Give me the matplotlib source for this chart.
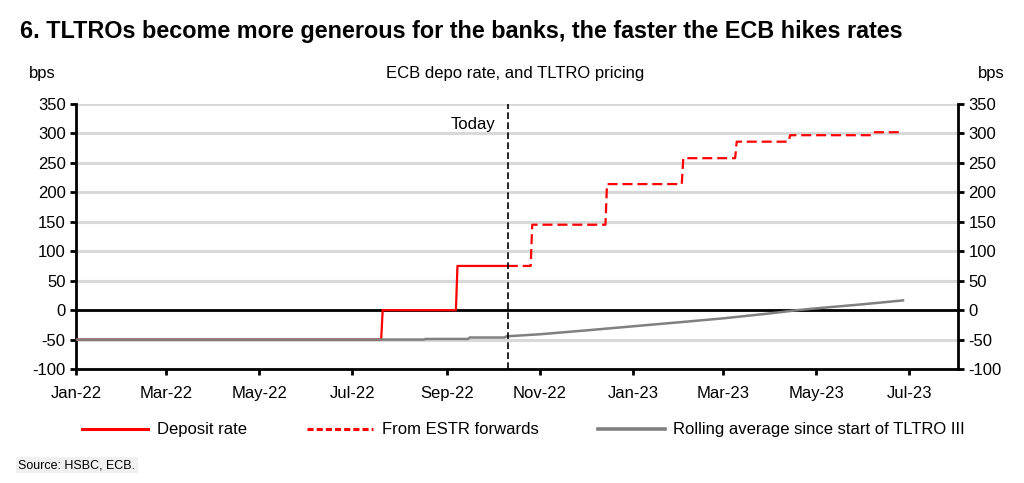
import pandas as pd
import numpy as np
import matplotlib.pyplot as plt
import matplotlib.dates as mdates

plt.rcParams['font.family'] = ['Liberation Sans', 'DejaVu Sans']
plt.rcParams['axes.unicode_minus'] = False

# Deposit rate (bps)
depo_dates = ['2022-01-01', '2022-07-20', '2022-07-21', '2022-09-07', '2022-09-08', '2022-10-11']
depo_vals = [-50, -50, 0, 0, 75, 75]

# From ESTR forwards (bps)
estr_dates = ['2022-10-11', '2022-10-26', '2022-10-27', '2022-12-14', '2022-12-15',
              '2023-02-02', '2023-02-03', '2023-03-09', '2023-03-10', '2023-04-13',
              '2023-04-14', '2023-06-06', '2023-06-07', '2023-06-26']
estr_vals = [75, 75, 145, 145, 214, 214, 258, 258, 286, 286, 297, 297, 302, 302]

# Rolling average since start of TLTRO III (bps)
roll_dates = ['2022-01-01', '2022-08-17', '2022-08-18', '2022-09-15', '2022-09-16',
              '2022-10-09', '2022-10-10', '2022-11-01', '2022-12-01', '2023-01-01',
              '2023-02-01', '2023-03-01', '2023-04-01', '2023-04-19', '2023-05-01',
              '2023-06-01', '2023-06-27']
roll_vals = [-50, -50, -49, -49, -46.5, -46.5, -44.5, -41, -34.5, -27.5,
             -20.5, -14, -5.5, 0, 3, 10, 16.5]

today = '2022-10-11'
yticks = [-100, -50, 0, 50, 100, 150, 200, 250, 300, 350]

fig = plt.figure(figsize=(10.24, 4.83), dpi=100)
ax = fig.add_axes([0.0742, 0.236, 0.8613, 0.5487])

ax.plot(pd.to_datetime(depo_dates), depo_vals, color='#ff0000', lw=1.6, zorder=4)
ax.plot(pd.to_datetime(estr_dates), estr_vals, color='#ff0000', lw=1.6,
        dashes=(4.5, 2.2), zorder=4)
ax.plot(pd.to_datetime(roll_dates), roll_vals, color='#808080', lw=1.8, zorder=5)

ax.axhline(0, color='black', lw=2, zorder=3)
ax.axvline(pd.Timestamp(today), color='black', lw=1.2, dashes=(4, 2), zorder=6)
ax.text(pd.Timestamp('2022-10-03'), 316, 'Today', ha='right', va='center', fontsize=12)

ax.set_xlim(pd.Timestamp('2022-01-01'), pd.Timestamp('2023-08-02'))
ax.set_ylim(-100, 350)
ax.set_yticks(yticks)
ax.grid(axis='y', color='#d9d9d9', lw=2.2, zorder=0)
ax.set_axisbelow(True)

ax.xaxis.set_major_locator(mdates.MonthLocator(bymonth=[1, 3, 5, 7, 9, 11]))
ax.xaxis.set_major_formatter(mdates.DateFormatter('%b-%y'))

for s in ['left', 'right', 'bottom']:
    ax.spines[s].set_linewidth(2)
ax.spines['top'].set_visible(False)
ax.tick_params(axis='both', direction='out', length=4, width=2, labelsize=12)
ax.tick_params(axis='y', right=True, labelright=True)
ax.tick_params(axis='x', pad=8)

fig.text(0.02, 0.935, '6. TLTROs become more generous for the banks, the faster the ECB hikes rates',
         fontsize=16.8, fontweight='bold', ha='left', va='center')
fig.text(0.503, 0.847, 'ECB depo rate, and TLTRO pricing', fontsize=12, ha='center', va='center')
fig.text(0.041, 0.847, 'bps', fontsize=12, ha='center', va='center')
fig.text(0.968, 0.847, 'bps', fontsize=12, ha='center', va='center')

handles = [plt.Line2D([], [], color='#ff0000', lw=2.2),
           plt.Line2D([], [], color='#ff0000', lw=2.2, dashes=(2, 1)),
           plt.Line2D([], [], color='#808080', lw=2.6)]
labels = ['Deposit rate', 'From ESTR forwards', 'Rolling average since start of TLTRO III']
fig.legend(handles, labels, loc='center', bbox_to_anchor=(0.511, 0.11), ncol=3,
           frameon=False, fontsize=12, handlelength=4, handletextpad=0.5,
           columnspacing=3.6)

fig.text(0.018, 0.037, 'Source: HSBC, ECB.', fontsize=9, ha='left', va='center',
         bbox=dict(facecolor='#f0f0f0', edgecolor='none', pad=1.5))

fig.savefig('out.png', dpi=100)
